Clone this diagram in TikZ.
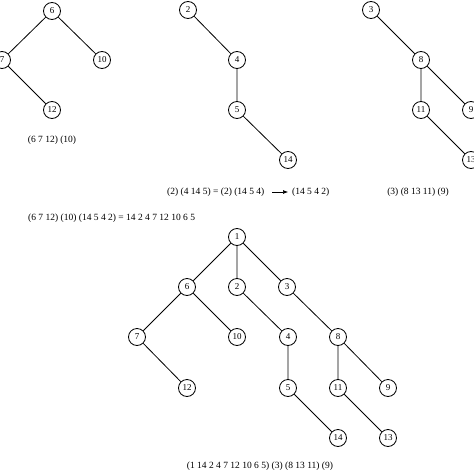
\documentclass[tikz,border=0pt]{standalone}
\usepackage{fontspec}
\setmainfont{Liberation Serif}
\usetikzlibrary{arrows.meta}
\begin{document}
\begin{tikzpicture}[x=1pt,y=-1pt,
  vtx/.style={circle,draw,line width=0.8pt,minimum size=17pt,inner sep=0pt,font=\fontsize{9}{10}\selectfont},
  lbl/.style={inner sep=0pt,font=\fontsize{9.5}{11}\selectfont},
  edge/.style={line width=0.8pt}]
\useasboundingbox (0,0) rectangle (474,474);
% top-left tree
\node[vtx] (a6) at (52,11) {6};
\node[vtx] (a7) at (2,60) {7};
\node[vtx] (a10) at (102,60) {10};
\node[vtx] (a12) at (52,110) {12};
\draw[edge] (a6)--(a7) (a6)--(a10) (a7)--(a12);
\node[lbl] (la) at (52,140) {(6 7 12) (10)};
% top-middle tree
\node[vtx] (b2) at (188,10) {2};
\node[vtx] (b4) at (237,60) {4};
\node[vtx] (b5) at (237,110) {5};
\node[vtx] (b14) at (288,160) {14};
\draw[edge] (b2)--(b4) (b4)--(b5) (b5)--(b14);
\node[lbl,anchor=west] (lb1) at (167,192) {(2) (4 14 5) = (2) (14 5 4)};
\node[lbl,anchor=west] (lb2) at (292,192) {(14 5 4 2)};
\coordinate (arS) at (272,192);
\coordinate (arE) at (288,192);
\draw[line width=0.6pt,-{Latex[length=5pt,width=4pt]}] (arS) -- (arE);
% top-right tree
\node[vtx] (c3) at (371,10) {3};
\node[vtx] (c8) at (421,60) {8};
\node[vtx] (c11) at (421,110) {11};
\node[vtx] (c9) at (471,110) {9};
\node[vtx] (c13) at (471,160) {13};
\draw[edge] (c3)--(c8) (c8)--(c11) (c8)--(c9) (c11)--(c13);
\node[lbl] (lc) at (418,192) {(3) (8 13 11) (9)};
% middle line
\node[lbl,anchor=west] (lm) at (28,218) {(6 7 12) (10) (14 5 4 2) = 14 2 4 7 12 10 6 5};
% bottom tree
\node[vtx] (d1) at (237,237) {1};
\node[vtx] (d6) at (187,287) {6};
\node[vtx] (d2) at (237,287) {2};
\node[vtx] (d3) at (287,287) {3};
\node[vtx] (d7) at (137,337) {7};
\node[vtx] (d10) at (237,337) {10};
\node[vtx] (d4) at (288,337) {4};
\node[vtx] (d8) at (338,337) {8};
\node[vtx] (d12) at (187,388) {12};
\node[vtx] (d5) at (288,388) {5};
\node[vtx] (d11) at (338,388) {11};
\node[vtx] (d9) at (388,388) {9};
\node[vtx] (d14) at (338,438) {14};
\node[vtx] (d13) at (388,438) {13};
\draw[edge] (d1)--(d6) (d1)--(d2) (d1)--(d3)
  (d6)--(d7) (d6)--(d10) (d7)--(d12)
  (d2)--(d4) (d4)--(d5) (d5)--(d14)
  (d3)--(d8) (d8)--(d11) (d8)--(d9) (d11)--(d13);
\node[lbl] (ld) at (260,466) {(1 14 2 4 7 12 10 6 5) (3) (8 13 11) (9)};
\end{tikzpicture}
\end{document}
